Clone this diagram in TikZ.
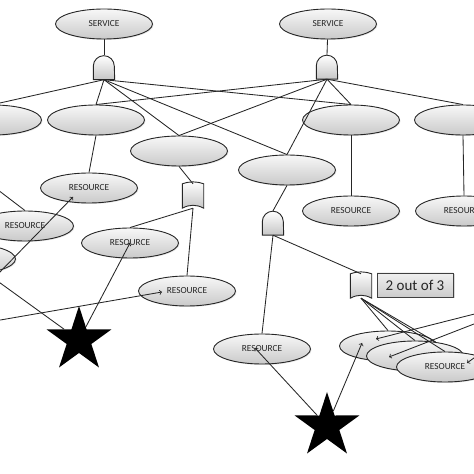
\documentclass[tikz,border=0pt]{standalone}
\usepackage{fontspec}
\setmainfont{Carlito}
\usetikzlibrary{positioning, shapes.geometric, shadows, calc, arrows}

\tikzset{
  blob/.style={ellipse, draw=black!85, line width=0.9pt, top color=gray!6, bottom color=gray!42,
    minimum width=97pt, minimum height=30pt, inner sep=0pt, text=black!85,
    font=\fontsize{9.3}{10}\selectfont, drop shadow={opacity=0.2, shadow xshift=1pt, shadow yshift=-1pt}},
  gatebox/.style={rectangle, minimum width=21pt, minimum height=24pt, inner sep=0pt},
  gatefill/.style={draw=black!85, line width=0.9pt, top color=white, bottom color=gray!45},
  link/.style={draw=black!85, line width=0.85pt},
  hit/.style={link, -to},
  target/.style={star, star points=5, star point ratio=2.62, minimum size=68pt, inner sep=0pt, fill=black}
}

\newcommand{\andgate}[2]{%
  \node[gatebox] (#1) at (#2) {};
  \draw[gatefill] (#1.south west) -- ++(0,13.5) arc[start angle=180, end angle=0, radius=10.5] -- (#1.south east) -- cycle;}
\newcommand{\orgate}[2]{%
  \node[gatebox] (#1) at (#2) {};
  \draw[gatefill] (#1.south west) -- (#1.north west) to[bend left=18] (#1.north east) -- (#1.south east) to[bend right=28] (#1.south west) -- cycle;}

\begin{document}
\begin{tikzpicture}[x=1pt, y=1pt]
        \useasboundingbox (0,0) rectangle (474,474);
        \clip (0,0) rectangle (474,474);
        \node[blob] (svc1) at (104,450) {SERVICE};
        \node[blob] (svc2) at (328,450) {SERVICE};
        \andgate{and1}{104,406.5}
        \andgate{and2}{327,407}
        \node[blob] (mid1) at (-7,354) {};
        \node[blob] (mid2) at (96,354) {};
        \node[blob] (mid3) at (179,323) {};
        \node[blob] (mid4) at (287,304) {};
        \node[blob] (mid5) at (351,354) {};
        \node[blob] (mid6) at (463,354) {};
        \node[blob] (res1) at (89,286) {RESOURCE};
        \node[blob] (res2) at (25,248) {RESOURCE};
        \node[blob] (res3) at (-33,215) {};
        \node[blob] (res4) at (130,231) {RESOURCE};
        \node[blob] (res5) at (187,183) {RESOURCE};
        \node[blob] (res6) at (351,263) {RESOURCE};
        \node[blob] (res7) at (464,263) {RESOURCE};
        \node[blob] (res8) at (262,125) {RESOURCE};
        \node[blob] (res9) at (388,128) {};
        \node[blob] (res10) at (415,118) {};
        \node[blob] (res11) at (445,107) {RESOURCE};
        \orgate{or1}{193,278}
        \andgate{and3}{273,251}
        \orgate{or2}{361,188}
        \node[rectangle, draw=black!75, line width=0.8pt, top color=gray!12, bottom color=gray!40,
          minimum width=76pt, minimum height=24pt, font=\fontsize{15}{16}\selectfont, text=black!85,
          drop shadow={opacity=0.3, shadow xshift=1.5pt, shadow yshift=-1.5pt}] (note) at (415,189) {2 out of 3};
        \node[target] (star1) at (79,134) {};
        \node[target] (star2) at (327,48) {};
        \coordinate (offA) at (-40,313);
        \coordinate (offB) at (-40,161);
        \coordinate (offC) at (-40,147);
        \coordinate (offD) at (510,169);
        \coordinate (offE) at (510,164);
        \coordinate (offF) at (510,142);
        \draw[link] (svc1) -- (and1.north);
        \draw[link] (svc2) -- (and2.north);
        \foreach \m in {mid1, mid2, mid3, mid4, mid5}
            \draw[link] (and1.south) -- (\m.north);
        \foreach \m in {mid2, mid3, mid4, mid5, mid6}
            \draw[link] (and2.south) -- (\m.north);
        \draw[link] (mid2.south) -- (res1.north);
        \draw[link] (mid3.south) -- (or1.north);
        \draw[link] (or1.south) -- (res4.north);
        \draw[link] (or1.south) -- (res5.north);
        \draw[link] (mid4.south) -- (and3.north);
        \draw[link] (and3.south) -- (res8.north);
        \draw[link] (and3.south) -- (or2.north);
        \draw[link] (mid5.south) -- (res6.north);
        \draw[link] (mid6.south) -- (res7.north);
        \draw[link] (offA) -- (res2.north);
        \draw[link] (or2.south) -- (res9.north);
        \draw[link] (or2.south) -- (res10.north);
        \draw[link] (or2.south) -- (res10.34);
        \draw[link] (or2.south) -- (res11.north);
        \draw[hit] (offB) -- ($(res1.center)+(-16,-9)$);
        \draw[hit] (offC) -- ($(res5.center)+(-25,-1)$);
        \draw[hit] (star1) -- (res4.center);
        \draw[hit] (star1) -- (res3);
        \draw[hit] (star2) -- ($(res8.center)+(-7,1)$);
        \draw[hit] (star2) -- ($(res9.center)+(-26,3)$);
        \draw[hit] (offD) -- ($(res9.center)+(-12,7)$);
        \draw[hit] (offE) -- ($(res10.center)+(-26,-1)$);
        \draw[hit] (offF) -- ($(res11.center)+(22,4)$);
    \end{tikzpicture}
\end{document}
